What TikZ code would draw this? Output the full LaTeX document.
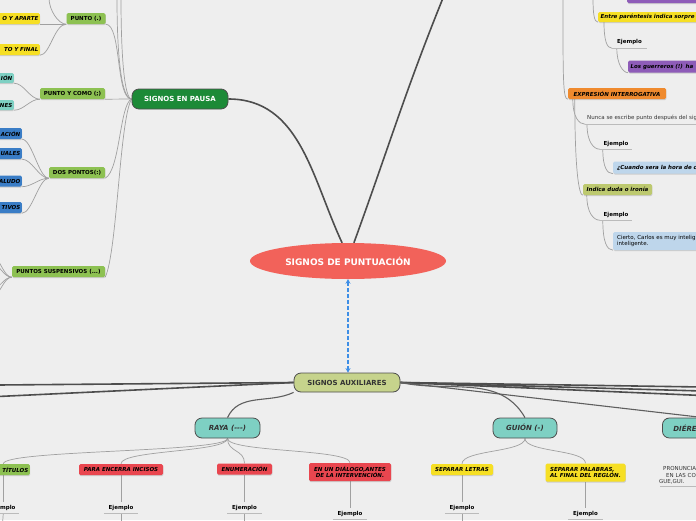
\documentclass[tikz,border=0pt]{standalone}
\usepackage{fontspec}
\setmainfont{DejaVu Sans}
\usetikzlibrary{shapes.geometric,arrows.meta,shadows,calc}
\definecolor{bg}{HTML}{EEEEEE}
\definecolor{cred}{HTML}{F2625A}
\definecolor{pgreen}{HTML}{1C8A37}
\definecolor{auxc}{HTML}{C6D38C}
\definecolor{tealc}{HTML}{7ED0C3}
\definecolor{lgreen}{HTML}{8DC152}
\definecolor{yel}{HTML}{F6DF24}
\definecolor{red2}{HTML}{E9464F}
\definecolor{blu}{HTML}{3A7DC6}
\definecolor{purp}{HTML}{8E5CB8}
\definecolor{orng}{HTML}{EF8A2E}
\definecolor{oliv}{HTML}{BDC96F}
\definecolor{lblu}{HTML}{BED6EB}
\definecolor{dkline}{HTML}{4D4D4D}
\definecolor{thinl}{HTML}{A0A0A0}
\definecolor{ulc}{HTML}{BBBBBB}
\definecolor{dblue}{HTML}{3D8EE6}
\definecolor{txt}{HTML}{333333}
\newcommand\myfs{\fontsize{5.5}{6.6}\selectfont}
\newcommand\mdfs{\fontsize{7}{8.4}\selectfont}
\pgfdeclarelayer{bgl}
\pgfdeclarelayer{lk}
\pgfsetlayers{bgl,lk,main}
\begin{document}
\begin{tikzpicture}[x=1pt,y=1pt,
  leaf/.style={rectangle, rounded corners=1.5pt, inner xsep=2.5pt, inner ysep=0pt,
    minimum height=11pt, font=\myfs\bfseries\itshape, text=black,
    drop shadow={shadow xshift=0.4pt, shadow yshift=-1.2pt, opacity=0.3}},
  gleaf/.style={leaf, fill=lgreen, font=\myfs\bfseries},
  lclip/.style={anchor=east, text width=50pt, align=right, inner xsep=1.5pt},
  rclip/.style={anchor=west, text width=120pt, align=left},
  mid/.style={rectangle, rounded corners=7pt, draw=dkline, line width=0.8pt,
    inner sep=0pt, font=\mdfs\bfseries, text=txt},
  ej/.style={font=\myfs\bfseries, inner sep=0pt, minimum height=11pt, text=black},
  uline/.style={draw=ulc, line width=1.3pt},
  tk/.style={draw=dkline, line width=1.6pt},
  md/.style={draw=dkline!90, line width=1.1pt},
  thn/.style={draw=thinl, line width=0.7pt},
  dsh/.style={draw=dblue, line width=1.4pt, dash pattern=on 4pt off 2pt,
    {Stealth[length=4.5pt,width=5pt]}-{Stealth[length=4.5pt,width=5pt]}}
]
\useasboundingbox (0,0) rectangle (696,-520);
\begin{pgfonlayer}{bgl}
\fill[bg] (0,0) rectangle (696,-520);
\end{pgfonlayer}

% ---- main nodes
\node[ellipse, fill=cred, minimum width=196pt, minimum height=36pt, inner sep=0pt,
  font=\fontsize{9}{10}\selectfont\bfseries, text=white] (c) at (348,-261) {SIGNOS DE PUNTUACIÓN};
\node[mid, fill=pgreen, text=white, minimum width=96pt, minimum height=20pt] (pause) at (180,-99) {SIGNOS EN PAUSA};
\node[mid, fill=auxc, minimum width=106pt, minimum height=19pt] (aux) at (347,-382.5) {SIGNOS AUXILIARES};
\node[mid, fill=tealc, font=\mdfs\bfseries\itshape, minimum width=65pt, minimum height=20pt] (raya) at (227.5,-428) {RAYA (-\kern0pt-\kern0pt-)};
\node[mid, fill=tealc, font=\mdfs\bfseries\itshape, minimum width=64pt, minimum height=20pt] (guion) at (525,-428) {GUIÓN (-)};
\node[mid, fill=tealc, font=\mdfs\bfseries\itshape, anchor=west, text width=60pt, align=left,
  inner xsep=11pt, minimum height=20pt] (dier) at (662,-428) {DIÉRE};

% ---- left branch
\node[gleaf, minimum width=39pt] (punto) at (86,-18.5) {PUNTO (.)};
\node[gleaf, minimum width=65pt] (pyc) at (72.5,-93.5) {PUNTO Y COMO (;)};
\node[gleaf, minimum width=56pt] (dos) at (77,-172.5) {DOS PONTOS(:)};
\node[gleaf, minimum width=93pt] (ps) at (58.5,-271.5) {PUNTOS SUSPENSIVOS (...)};
\node[leaf, fill=yel, lclip] (pa) at (40,-18.5) {O Y APARTE};
\node[leaf, fill=yel, lclip] (pf) at (40,-49.5) {TO Y FINAL};
\node[leaf, fill=tealc, lclip, minimum height=10pt] (t1) at (14,-78) {IÓN};
\node[leaf, fill=tealc, lclip, minimum height=10pt] (t2) at (14,-105) {NES};
\node[leaf, fill=blu, lclip] (b1) at (22,-133.5) {ACIÓN};
\node[leaf, fill=blu, lclip] (b2) at (22,-153.5) {UALES};
\node[leaf, fill=blu, lclip] (b3) at (22,-181) {ALUDO};
\node[leaf, fill=blu, lclip] (b4) at (22,-207.5) {TIVOS};
\coordinate (lt1) at (117,2);
\coordinate (lt2) at (121,2);
\coordinate (pt) at (49,2);
\coordinate (s1) at (-6,-258);
\coordinate (s2) at (-6,-265);
\coordinate (s3) at (-6,-288);
\coordinate (s4) at (-6,-295);

% ---- right branch
\node[leaf, fill=purp, rclip, minimum height=13pt] (pu0) at (627,3.5) {};
\node[leaf, fill=yel, rclip, minimum height=10pt] (yb1) at (598,-17) {Entre paréntesis indica sorpre};
\node[ej, minimum width=35pt] (e1) at (629.5,-42.5) {Ejemplo};
\node[leaf, fill=purp, rclip, minimum height=12pt] (pu1) at (628,-66.5) {Los guerreros (!) ha};
\node[leaf, fill=orng, minimum width=98pt] (or) at (617,-93.5) {EXPRESIÓN INTERROGATIVA};
\node[anchor=west, font=\myfs, text=txt, inner xsep=2pt, inner ysep=0pt, minimum height=12pt,
  text width=120pt, align=left] (nun) at (585,-118) {Nunca se escribe punto después del sig};
\node[ej, minimum width=32pt] (e2) at (616,-143.5) {Ejemplo};
\node[leaf, fill=lblu, rclip, inner xsep=4pt, minimum height=12pt] (lb1) at (613,-167.5) {¿Cuando sera la hora de c};
\node[leaf, fill=oliv, minimum width=69pt] (ol) at (617.5,-189.5) {Indica duda o ironía};
\node[ej, minimum width=32pt] (e3) at (616,-214.5) {Ejemplo};
\node[leaf, fill=lblu, rclip, font=\myfs, inner xsep=4pt, minimum height=18pt] (lb2) at (613,-241) {Cierto, Carlos es muy intelig\\inteligente.};
\coordinate (rt1) at (563,2);
\coordinate (rt2) at (593,2);
\coordinate (ctop) at (443,2);

% ---- bottom branch
\node[leaf, fill=lgreen, lclip] (tit) at (30,-469.5) {TÍTULOS};
\node[leaf, fill=red2, minimum width=84pt] (inc) at (121,-469.5) {PARA ENCERRA INCISOS};
\node[leaf, fill=red2, minimum width=55pt] (enu) at (244.5,-469) {ENUMERACIÓN};
\node[leaf, fill=red2, minimum width=82pt, minimum height=18pt, align=center,
  font=\fontsize{5.5}{6.3}\selectfont\bfseries\itshape] (dia) at (350,-472) {EN UN DIÁLOGO,ANTES\\DE LA INTERVENCIÓN.};
\node[leaf, fill=yel, minimum width=62pt] (sl) at (462,-469.5) {SEPARAR LETRAS};
\node[leaf, fill=yel, minimum width=80pt, minimum height=18pt, align=left,
  font=\fontsize{5.5}{6.3}\selectfont\bfseries\itshape] (sp) at (585.5,-472.5) {SEPARAR PALABRAS,\\AL FINAL DEL REGLÓN.};
\node[ej, text width=34pt, align=right] (e0) at (2,-507.5) {mplo\hspace*{3.5pt}};
\node[ej, minimum width=34pt] (e4) at (121,-507.5) {Ejemplo};
\node[ej, minimum width=34pt] (e5) at (244.5,-507.5) {Ejemplo};
\node[ej, minimum width=34pt] (e6) at (350,-513.5) {Ejemplo};
\node[ej, minimum width=34pt] (e7) at (462,-507.5) {Ejemplo};
\node[ej, minimum width=34pt] (e8) at (585.5,-513.5) {Ejemplo};
\node[anchor=north west, font=\myfs, text=txt, align=left, inner sep=0pt] (dt) at (659,-466.5)
  {\hspace*{4pt}PRONUNCIA\\\hspace*{7pt}EN LAS CO\\GUE,GUI.};
\coordinate (bl1) at (-2,-385);
\coordinate (bl2) at (-2,-396.5);
\coordinate (br1) at (702,-387);
\coordinate (br2) at (702,-391);
\coordinate (br3) at (702,-395.5);
\coordinate (d0) at (2.5,-524);
\coordinate (d4) at (121,-524);
\coordinate (d5) at (244.5,-524);
\coordinate (d7) at (462,-524);

\begin{pgfonlayer}{lk}
% main connectors
\draw[tk] (pause.east) to[out=0,in=115] (c.108);
\draw[tk] (c.72) to[out=70,in=-112] (ctop);
\draw[dsh] (c.south) -- (c.south |- aux.north);
% left
\draw[thn] (pause.west) .. controls +(-16,0) and +(16,0) .. (punto.south east);
\draw[thn] (pause.west) .. controls +(-10,0) and +(0,-60) .. (lt1);
\draw[thn] (pause.west) .. controls +(-7,0) and +(0,-60) .. (lt2);
\draw[thn] (pause.west) -- (pyc.south east);
\draw[thn] (pause.west) .. controls +(-12,-5) and +(15,8) .. (dos.south east);
\draw[thn] (pause.west) .. controls +(-12,-20) and +(12,25) .. (ps.south east);
\draw[thn] (punto.south west) .. controls +(-10,0) and +(8,0) .. (pa.south east);
\draw[thn] (punto.south west) .. controls +(-12,0) and +(10,0) .. (pf.south east);
\draw[thn] (punto.south west) .. controls +(-8,0) and +(0,-12) .. (pt);
\draw[thn] (pyc.south west) .. controls +(-10,0) and +(10,0) .. (t1.south east);
\draw[thn] (pyc.south west) .. controls +(-10,0) and +(10,0) .. (t2.south east);
\foreach \b in {b1,b2,b3,b4}
  \draw[thn] (dos.south west) .. controls +(-10,0) and +(10,0) .. (\b.south east);
\foreach \s in {s1,s2,s3,s4}
  \draw[thn] (ps.south west) .. controls +(-8,0) and +(6,0) .. (\s);
% right
\draw[thn] (rt1) .. controls +(0,-80) and +(-5,0) .. (or.south west);
\draw[thn] (rt2) .. controls +(0,-15) and +(-4,0) .. (yb1.south west);
\draw[thn] ($(yb1.south west)+(6,0)$) .. controls +(0,-18) and +(-5,0) .. (e1.south west);
\draw[thn] ($(e1.south west)+(5,0)$) .. controls +(0,-16) and +(-5,0) .. (pu1.south west);
\draw[thn] ($(or.south west)+(5,0)$) .. controls +(0,-18) and +(-6,0) .. (nun.south west);
\draw[thn] ($(or.south west)+(7,0)$) .. controls +(0,-70) and +(-4,0) .. (ol.south west);
\draw[thn] ($(nun.south west)+(2,0)$) .. controls +(0,-18) and +(-6,0) .. (e2.south west);
\draw[thn] ($(e2.south west)+(3,0)$) .. controls +(0,-18) and +(-6,0) .. (lb1.south west);
\draw[thn] ($(ol.south west)+(4,0)$) .. controls +(0,-18) and +(-6,0) .. (e3.south west);
\draw[thn] ($(e3.south west)+(3,0)$) .. controls +(0,-22) and +(-6,0) .. (lb2.south west);
% bottom
\draw[tk] (aux.west) -- (bl1);
\draw[tk] (aux.west) -- (bl2);
\draw[tk] (aux.east) -- (br1);
\draw[tk] (aux.east) -- (br2);
\draw[tk] (aux.east) -- (br3);
\draw[md] (aux.east) -- (dier.north);
\draw[md] (aux.south west) to[out=205,in=65] (raya.north);
\draw[md] (aux.east) to[out=-12,in=120] (guion.north);
\foreach \k in {tit,inc,enu,dia}
  \draw[thn] (raya.south) .. controls +(0,-14) and +(0,14) .. (\k.north);
\foreach \k in {sl,sp}
  \draw[thn] (guion.south) .. controls +(0,-14) and +(0,14) .. (\k.north);
\draw[thn] (tit.south) -- (tit.south |- e0.north);
\draw[thn] (inc.south) -- (e4.north);
\draw[thn] (enu.south) -- (e5.north);
\draw[thn] (dia.south) -- (e6.north);
\draw[thn] (sl.south) -- (e7.north);
\draw[thn] (sp.south) -- (e8.north);
\draw[thn] (tit.south |- e0.south) -- (d0);
\draw[thn] (e4.south) -- (d4);
\draw[thn] (e5.south) -- (d5);
\draw[thn] (e7.south) -- (d7);
\end{pgfonlayer}

% underlines
\foreach \n in {e0,e1,e2,e3,e4,e5,e6,e7,e8}
  \draw[uline] (\n.south west) -- (\n.south east);
\draw[uline] (nun.south west) -- (nun.south east);
\draw[uline] ($(dt.south west)+(1,-2)$) -- ++(45,0);
\end{tikzpicture}
\end{document}
